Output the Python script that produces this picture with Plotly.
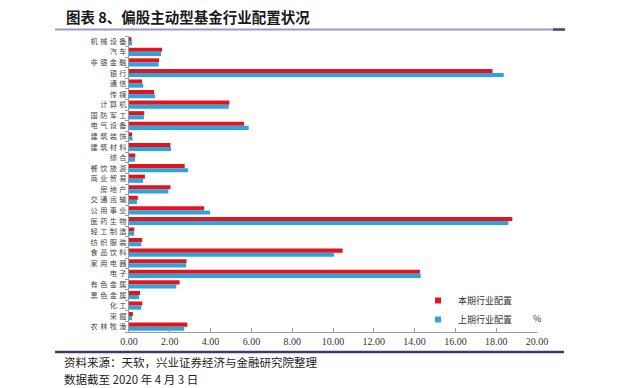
import plotly.graph_objects as go

categories = ["机械设备", "汽车", "非银金融", "银行", "通信", "传媒", "计算机", "国防军工",
              "电气设备", "建筑装饰", "建筑材料", "综合", "餐饮旅游", "商业贸易", "房地产",
              "交通运输", "公用事业", "医药生物", "轻工制造", "纺织服装", "食品饮料", "家用电器",
              "电子", "有色金属", "黑色金属", "化工", "采掘", "农林牧渔"]
current_period = [0.12, 1.62, 1.47, 17.82, 0.64, 1.23, 4.92, 0.75, 5.64, 0.15, 2.03, 0.31,
                  2.73, 0.78, 2.03, 0.43, 3.68, 18.79, 0.26, 0.65, 10.47, 2.82, 14.26, 2.48,
                  0.54, 0.65, 0.19, 2.86]
previous_period = [0.15, 1.57, 1.45, 18.37, 0.70, 1.27, 4.89, 0.73, 5.87, 0.17, 2.06, 0.29,
                   2.89, 0.69, 1.93, 0.39, 3.97, 18.60, 0.25, 0.60, 10.05, 2.80, 14.30, 2.32,
                   0.49, 0.60, 0.15, 2.71]
x_ticks = [0, 2, 4, 6, 8, 10, 12, 14, 16, 18, 20]
x_tick_labels = ["%.2f" % v for v in x_ticks]
series_names = ["本期行业配置", "上期行业配置"]
title_text = "图表 8、偏股主动型基金行业配置状况"
source_text = "资料来源：天软，兴业证券经济与金融研究院整理"
date_text = "数据截至 2020 年 4 月 3 日"

# letter-spaced display version of the category labels (same text)
category_labels = ["\u2004".join(list(c)) for c in categories]

RED = "#e3141c"
BLUE = "#2aa5df"
W, H = 640, 388
L, R, T, B = 129, 537, 36, 332


def px_x(px):
    return (px - L) / (R - L)


def px_y(py):
    return (B - py) / (B - T)


fig = go.Figure()
fig.add_trace(go.Bar(y=categories, x=current_period, orientation="h", name=series_names[0],
                     marker=dict(color=RED, line=dict(width=0)), showlegend=False))
fig.add_trace(go.Bar(y=categories, x=previous_period, orientation="h", name=series_names[1],
                     marker=dict(color=BLUE, line=dict(width=0)), showlegend=False))
# legend entries with small square swatches
fig.add_trace(go.Scatter(x=[None], y=[None], mode="markers", name=series_names[0],
                         marker=dict(symbol="square", size=6, color=RED)))
fig.add_trace(go.Scatter(x=[None], y=[None], mode="markers", name=series_names[1],
                         marker=dict(symbol="square", size=6, color=BLUE)))

fig.update_layout(
    width=W, height=H,
    margin=dict(l=L, r=W - R, t=T, b=H - B, pad=0),
    paper_bgcolor="white", plot_bgcolor="white",
    barmode="group", bargap=0.22, bargroupgap=0,
    font=dict(family="Noto Sans CJK SC", size=9, color="#333333"),
    legend=dict(x=px_x(418), y=px_y(286), xanchor="left", yanchor="top",
                bgcolor="rgba(0,0,0,0)", font=dict(size=9, color="#333333"),
                itemwidth=30, tracegroupgap=0),
    xaxis=dict(range=[0, 20], tickvals=x_ticks, ticktext=x_tick_labels,
               showgrid=False, zeroline=False, showline=True, linecolor="#9a9a9a",
               linewidth=1, ticks="inside", ticklen=4, tickcolor="#9a9a9a",
               tickfont=dict(family="Liberation Serif", size=10, color="#333333"),
               fixedrange=True),
    yaxis=dict(type="category", autorange="reversed", showgrid=False, zeroline=False,
               tickmode="array", tickvals=categories, ticktext=category_labels,
               showline=True, linecolor="#9a9a9a", linewidth=1, ticks="outside",
               ticklen=3, tickcolor="#9a9a9a", tickson="boundaries",
               tickfont=dict(family="Noto Sans CJK SC", size=7.2, color="#444444"),
               fixedrange=True),
)

annotations = [
    dict(text="<b>" + title_text + "</b>", x=px_x(64), y=px_y(17), xref="paper", yref="paper",
         xanchor="left", yanchor="middle", showarrow=False,
         font=dict(family="Noto Sans CJK SC", size=14.5, color="#1a1a1a")),
    dict(text=source_text, x=px_x(62), y=px_y(362), xref="paper", yref="paper",
         xanchor="left", yanchor="middle", showarrow=False,
         font=dict(family="Noto Sans CJK SC", size=11.5, color="#222222")),
    dict(text=date_text, x=px_x(62), y=px_y(379), xref="paper", yref="paper",
         xanchor="left", yanchor="middle", showarrow=False,
         font=dict(family="Noto Sans CJK SC", size=11.5, color="#222222")),
    dict(text="%", x=px_x(537), y=px_y(318), xref="paper", yref="paper",
         xanchor="center", yanchor="middle", showarrow=False,
         font=dict(family="Noto Sans CJK SC", size=9, color="#333333")),
]
fig.update_layout(annotations=annotations)

shapes = [
    dict(type="line", xref="paper", yref="paper", x0=px_x(55), x1=px_x(565),
         y0=px_y(29.5), y1=px_y(29.5), line=dict(color="#9a9ac2", width=2)),
    dict(type="line", xref="paper", yref="paper", x0=px_x(553), x1=px_x(565),
         y0=px_y(29.5), y1=px_y(29.5), line=dict(color="#4a4a78", width=2.5)),
    dict(type="line", xref="paper", yref="paper", x0=px_x(55), x1=px_x(564),
         y0=px_y(352), y1=px_y(352), line=dict(color="#3c3c6e", width=2.5)),
]
fig.update_layout(shapes=shapes)

fig.write_html("out.html", config={"displayModeBar": False},
               post_script="document.body.style.margin='0px';document.body.style.overflow='hidden';")
